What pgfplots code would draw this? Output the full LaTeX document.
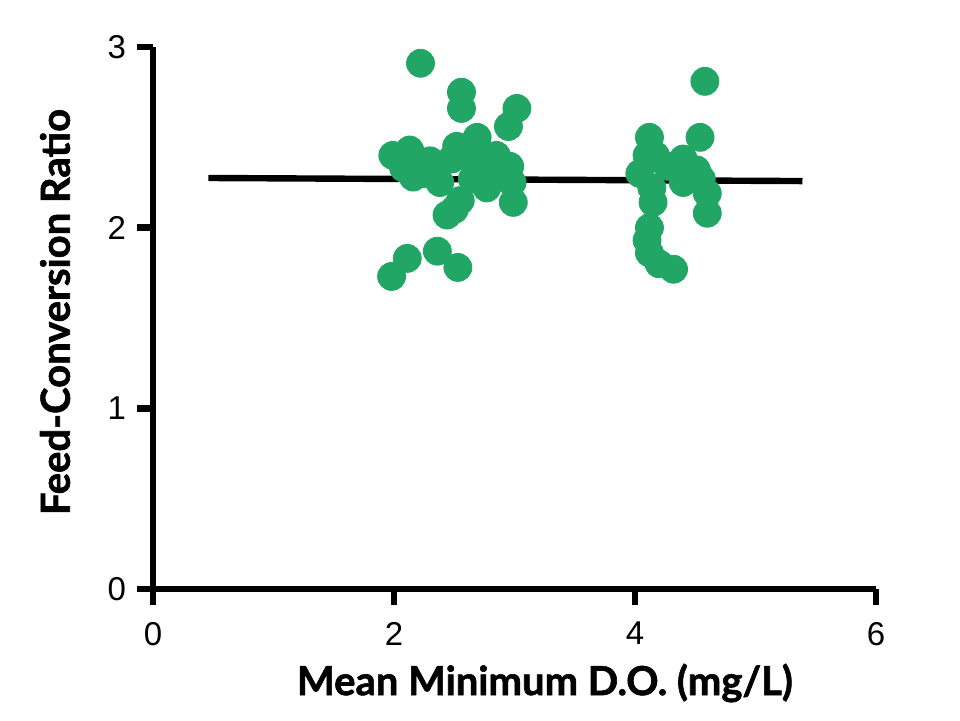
\documentclass[border=0pt]{standalone}
\usepackage{fontspec}
\setmainfont{Liberation Sans}
\newfontfamily\labfont[BoldFeatures={FakeBold=1.5}]{Lato}
\usepackage{pgfplots}
\pgfplotsset{compat=1.18}
\definecolor{dotgreen}{RGB}{33,166,102}
\begin{document}
\begin{tikzpicture}
\path[use as bounding box] (-76.5pt,-65.5pt) rectangle (403.5pt,294.5pt);
\begin{axis}[
  at={(0,0)}, anchor=origin,
  scale only axis, width=361.5pt, height=271pt,
  xmin=0, xmax=6, ymin=0, ymax=3,
  axis x line*=bottom, axis y line*=left,
  axis line style={line width=3.2pt, -},
  xtick={0,2,4,6}, ytick={0,1,2,3},
  tick align=outside, major tick length=8pt,
  tick style={line width=3.2pt, black},
  /pgf/number format/assume math mode=true,
  ticklabel style={font=\fontsize{16.5}{18}\selectfont},
  xticklabel style={yshift=-5pt},
  yticklabel style={xshift=-2pt},
  xlabel={Mean Minimum D.O. (mg/L)},
  ylabel={Feed-Conversion Ratio},
  label style={font=\labfont\bfseries\fontsize{20}{24}\selectfont},
  xlabel style={at={(axis description cs:0.542,0)}, anchor=center, yshift=-47pt},
  ylabel style={at={(axis description cs:-0.1355,0.511)}, anchor=center},
  clip=false,
]
\addplot[black, line width=3.2pt] coordinates {(0.46,2.275) (5.39,2.258)};
\addplot[only marks, mark=*, mark size=7pt, color=dotgreen, mark options={draw=dotgreen, fill=dotgreen}] coordinates {
(2.22,2.91) (2.56,2.75) (2.56,2.66) (3.02,2.66) (2.95,2.56)
(1.99,2.40) (2.13,2.43) (2.30,2.37) (2.16,2.28) (2.38,2.25)
(2.52,2.45) (2.69,2.50) (2.74,2.34) (2.77,2.22) (2.96,2.34)
(2.99,2.14) (2.44,2.07) (2.55,2.15) (1.98,1.73) (2.11,1.83)
(2.36,1.87) (2.53,1.78) (2.05,2.38) (2.25,2.30) (2.85,2.40) (2.65,2.27)
(2.20,2.36) (2.08,2.33) (2.33,2.30) (2.48,2.38) (2.60,2.40)
(2.80,2.30) (2.50,2.10) (2.98,2.25) (2.72,2.42)
(4.58,2.81) (4.12,2.50) (4.54,2.50) (4.04,2.30) (4.27,2.34)
(4.51,2.32) (4.60,2.19) (4.60,2.08) (4.15,2.14) (4.12,2.00)
(4.12,1.86) (4.32,1.77) (4.17,2.40) (4.40,2.25)
(4.10,2.40) (4.14,2.22) (4.10,1.93) (4.20,1.80) (4.40,2.38) (4.55,2.27)
};
\end{axis}
\end{tikzpicture}
\end{document}
